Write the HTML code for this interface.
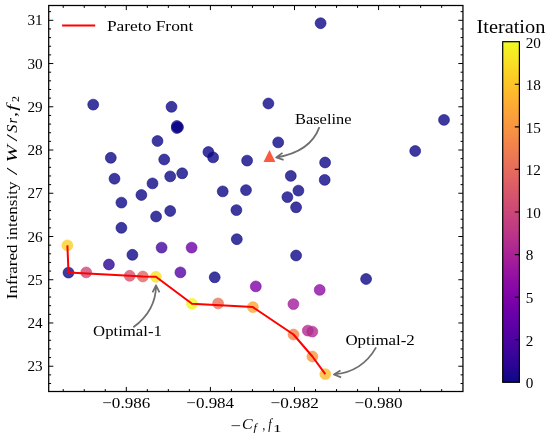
<!DOCTYPE html><html><head><meta charset="utf-8"><style>html,body{margin:0;padding:0;background:#fff;width:550px;height:439px;overflow:hidden}svg{display:block}text{font-family:'Liberation Serif', 'DejaVu Serif', serif;fill:#000}</style></head><body>
<svg width="550" height="439" viewBox="0 0 550 439">
<rect width="550" height="439" fill="#fff"/>
<g fill-opacity="0.80" stroke-opacity="0.80" stroke-width="0.7">
<circle cx="93.2" cy="104.6" r="5.45" fill="#0d0887" stroke="#0d0887"/>
<circle cx="171.5" cy="106.8" r="5.45" fill="#0d0887" stroke="#0d0887"/>
<circle cx="176.9" cy="126.0" r="5.45" fill="#0d0887" stroke="#0d0887"/>
<circle cx="178.0" cy="127.2" r="5.45" fill="#0d0887" stroke="#0d0887"/>
<circle cx="176.8" cy="128.0" r="5.45" fill="#0d0887" stroke="#0d0887"/>
<circle cx="157.5" cy="141.0" r="5.45" fill="#0d0887" stroke="#0d0887"/>
<circle cx="208.4" cy="152.0" r="5.45" fill="#0d0887" stroke="#0d0887"/>
<circle cx="213.1" cy="157.4" r="5.45" fill="#0d0887" stroke="#0d0887"/>
<circle cx="110.8" cy="157.8" r="5.45" fill="#0d0887" stroke="#0d0887"/>
<circle cx="164.2" cy="159.5" r="5.45" fill="#0d0887" stroke="#0d0887"/>
<circle cx="114.5" cy="178.7" r="5.45" fill="#0d0887" stroke="#0d0887"/>
<circle cx="170.2" cy="176.4" r="5.45" fill="#0d0887" stroke="#0d0887"/>
<circle cx="182.2" cy="173.3" r="5.45" fill="#0d0887" stroke="#0d0887"/>
<circle cx="152.5" cy="183.4" r="5.45" fill="#0d0887" stroke="#0d0887"/>
<circle cx="141.4" cy="195.0" r="5.45" fill="#0d0887" stroke="#0d0887"/>
<circle cx="121.4" cy="202.6" r="5.45" fill="#0d0887" stroke="#0d0887"/>
<circle cx="222.7" cy="191.4" r="5.45" fill="#0d0887" stroke="#0d0887"/>
<circle cx="170.2" cy="211.0" r="5.45" fill="#0d0887" stroke="#0d0887"/>
<circle cx="156.1" cy="216.5" r="5.45" fill="#0d0887" stroke="#0d0887"/>
<circle cx="236.4" cy="210.1" r="5.45" fill="#0d0887" stroke="#0d0887"/>
<circle cx="121.4" cy="227.8" r="5.45" fill="#0d0887" stroke="#0d0887"/>
<circle cx="236.8" cy="239.2" r="5.45" fill="#0d0887" stroke="#0d0887"/>
<circle cx="132.4" cy="254.8" r="5.45" fill="#0d0887" stroke="#0d0887"/>
<circle cx="68.5" cy="272.6" r="5.45" fill="#0d0887" stroke="#0d0887"/>
<circle cx="214.7" cy="277.3" r="5.45" fill="#0d0887" stroke="#0d0887"/>
<circle cx="320.6" cy="23.2" r="5.45" fill="#0d0887" stroke="#0d0887"/>
<circle cx="268.4" cy="103.5" r="5.45" fill="#0d0887" stroke="#0d0887"/>
<circle cx="278.2" cy="142.4" r="5.45" fill="#0d0887" stroke="#0d0887"/>
<circle cx="247.1" cy="160.6" r="5.45" fill="#0d0887" stroke="#0d0887"/>
<circle cx="325.1" cy="162.5" r="5.45" fill="#0d0887" stroke="#0d0887"/>
<circle cx="290.8" cy="175.9" r="5.45" fill="#0d0887" stroke="#0d0887"/>
<circle cx="324.7" cy="179.9" r="5.45" fill="#0d0887" stroke="#0d0887"/>
<circle cx="246.0" cy="190.1" r="5.45" fill="#0d0887" stroke="#0d0887"/>
<circle cx="298.4" cy="190.6" r="5.45" fill="#0d0887" stroke="#0d0887"/>
<circle cx="287.4" cy="197.1" r="5.45" fill="#0d0887" stroke="#0d0887"/>
<circle cx="296.1" cy="207.3" r="5.45" fill="#0d0887" stroke="#0d0887"/>
<circle cx="296.1" cy="255.5" r="5.45" fill="#0d0887" stroke="#0d0887"/>
<circle cx="444.0" cy="119.9" r="5.45" fill="#0d0887" stroke="#0d0887"/>
<circle cx="415.2" cy="151.0" r="5.45" fill="#0d0887" stroke="#0d0887"/>
<circle cx="366.1" cy="279.0" r="5.45" fill="#0d0887" stroke="#0d0887"/>
<circle cx="67.4" cy="245.4" r="5.45" fill="#fcce25" stroke="#fcce25"/>
<circle cx="86.2" cy="272.4" r="5.45" fill="#cc4778" stroke="#cc4778"/>
<circle cx="108.9" cy="264.5" r="5.45" fill="#2a0593" stroke="#2a0593"/>
<circle cx="129.7" cy="275.8" r="5.45" fill="#d6556d" stroke="#d6556d"/>
<circle cx="142.8" cy="276.5" r="5.45" fill="#e16462" stroke="#e16462"/>
<circle cx="155.9" cy="276.8" r="5.45" fill="#f7e425" stroke="#f7e425"/>
<circle cx="161.6" cy="247.6" r="5.45" fill="#41049d" stroke="#41049d"/>
<circle cx="191.6" cy="247.6" r="5.45" fill="#6a00a8" stroke="#6a00a8"/>
<circle cx="180.4" cy="272.4" r="5.45" fill="#5601a4" stroke="#5601a4"/>
<circle cx="192.0" cy="303.8" r="5.45" fill="#f0f921" stroke="#f0f921"/>
<circle cx="218.1" cy="303.4" r="5.45" fill="#ea7457" stroke="#ea7457"/>
<circle cx="252.9" cy="307.1" r="5.45" fill="#fca636" stroke="#fca636"/>
<circle cx="255.8" cy="286.4" r="5.45" fill="#7e03a8" stroke="#7e03a8"/>
<circle cx="319.7" cy="289.9" r="5.45" fill="#8f0da4" stroke="#8f0da4"/>
<circle cx="293.4" cy="304.1" r="5.45" fill="#a11b9b" stroke="#a11b9b"/>
<circle cx="293.5" cy="334.5" r="5.45" fill="#f2844b" stroke="#f2844b"/>
<circle cx="307.8" cy="330.6" r="5.45" fill="#b12a90" stroke="#b12a90"/>
<circle cx="312.3" cy="331.6" r="5.45" fill="#b12a90" stroke="#b12a90"/>
<circle cx="312.4" cy="356.5" r="5.45" fill="#f89540" stroke="#f89540"/>
<circle cx="325.3" cy="374.1" r="5.45" fill="#feba2c" stroke="#feba2c"/>
</g>
<polygon points="269.5,150.0 263.5,162.0 275.4,162.0" fill="#fa5a3e"/>
<polyline points="67.4,245.4 68.5,272.6 129.7,275.8 142.8,276.5 155.9,276.8 192.0,303.8 252.9,307.1 293.5,334.5 312.4,356.5 325.3,374.1" fill="none" stroke="#ff0000" stroke-width="2.0" stroke-linejoin="round"/>
<path d="M48.70 366.22H53.30M462.95 366.22H458.35M48.70 322.98H53.30M462.95 322.98H458.35M48.70 279.74H53.30M462.95 279.74H458.35M48.70 236.50H53.30M462.95 236.50H458.35M48.70 193.26H53.30M462.95 193.26H458.35M48.70 150.02H53.30M462.95 150.02H458.35M48.70 106.78H53.30M462.95 106.78H458.35M48.70 63.54H53.30M462.95 63.54H458.35M48.70 20.30H53.30M462.95 20.30H458.35M48.70 383.52H51.10M462.95 383.52H460.55M48.70 374.87H51.10M462.95 374.87H460.55M48.70 357.57H51.10M462.95 357.57H460.55M48.70 348.92H51.10M462.95 348.92H460.55M48.70 340.28H51.10M462.95 340.28H460.55M48.70 331.63H51.10M462.95 331.63H460.55M48.70 314.33H51.10M462.95 314.33H460.55M48.70 305.68H51.10M462.95 305.68H460.55M48.70 297.04H51.10M462.95 297.04H460.55M48.70 288.39H51.10M462.95 288.39H460.55M48.70 271.09H51.10M462.95 271.09H460.55M48.70 262.44H51.10M462.95 262.44H460.55M48.70 253.80H51.10M462.95 253.80H460.55M48.70 245.15H51.10M462.95 245.15H460.55M48.70 227.85H51.10M462.95 227.85H460.55M48.70 219.20H51.10M462.95 219.20H460.55M48.70 210.56H51.10M462.95 210.56H460.55M48.70 201.91H51.10M462.95 201.91H460.55M48.70 184.61H51.10M462.95 184.61H460.55M48.70 175.96H51.10M462.95 175.96H460.55M48.70 167.32H51.10M462.95 167.32H460.55M48.70 158.67H51.10M462.95 158.67H460.55M48.70 141.37H51.10M462.95 141.37H460.55M48.70 132.72H51.10M462.95 132.72H460.55M48.70 124.08H51.10M462.95 124.08H460.55M48.70 115.43H51.10M462.95 115.43H460.55M48.70 98.13H51.10M462.95 98.13H460.55M48.70 89.48H51.10M462.95 89.48H460.55M48.70 80.84H51.10M462.95 80.84H460.55M48.70 72.19H51.10M462.95 72.19H460.55M48.70 54.89H51.10M462.95 54.89H460.55M48.70 46.24H51.10M462.95 46.24H460.55M48.70 37.60H51.10M462.95 37.60H460.55M48.70 28.95H51.10M462.95 28.95H460.55M48.70 11.65H51.10M462.95 11.65H460.55M126.30 391.50V386.90M126.30 5.50V10.10M210.40 391.50V386.90M210.40 5.50V10.10M294.50 391.50V386.90M294.50 5.50V10.10M378.60 391.50V386.90M378.60 5.50V10.10M63.22 391.50V389.10M63.22 5.50V7.90M84.25 391.50V389.10M84.25 5.50V7.90M105.27 391.50V389.10M105.27 5.50V7.90M147.32 391.50V389.10M147.32 5.50V7.90M168.35 391.50V389.10M168.35 5.50V7.90M189.37 391.50V389.10M189.37 5.50V7.90M231.42 391.50V389.10M231.42 5.50V7.90M252.45 391.50V389.10M252.45 5.50V7.90M273.47 391.50V389.10M273.47 5.50V7.90M315.52 391.50V389.10M315.52 5.50V7.90M336.55 391.50V389.10M336.55 5.50V7.90M357.57 391.50V389.10M357.57 5.50V7.90M399.62 391.50V389.10M399.62 5.50V7.90M420.65 391.50V389.10M420.65 5.50V7.90M441.67 391.50V389.10M441.67 5.50V7.90" stroke="#000" stroke-width="1.0" fill="none"/>
<rect x="48.70" y="5.50" width="414.25" height="386.00" fill="none" stroke="#000" stroke-width="1.25"/>
<text x="42.6" y="371.3" font-size="15.2" text-anchor="end">23</text>
<text x="42.6" y="328.1" font-size="15.2" text-anchor="end">24</text>
<text x="42.6" y="284.8" font-size="15.2" text-anchor="end">25</text>
<text x="42.6" y="241.6" font-size="15.2" text-anchor="end">26</text>
<text x="42.6" y="198.4" font-size="15.2" text-anchor="end">27</text>
<text x="42.6" y="155.1" font-size="15.2" text-anchor="end">28</text>
<text x="42.6" y="111.9" font-size="15.2" text-anchor="end">29</text>
<text x="42.6" y="68.6" font-size="15.2" text-anchor="end">30</text>
<text x="42.6" y="25.4" font-size="15.2" text-anchor="end">31</text>
<text x="102.25" y="407.90" font-size="15.20" textLength="47.96" lengthAdjust="spacingAndGlyphs">−0.986</text>
<text x="186.36" y="407.90" font-size="15.20" textLength="47.71" lengthAdjust="spacingAndGlyphs">−0.984</text>
<text x="270.44" y="407.90" font-size="15.20" textLength="48.41" lengthAdjust="spacingAndGlyphs">−0.982</text>
<text x="354.55" y="407.90" font-size="15.20" textLength="48.10" lengthAdjust="spacingAndGlyphs">−0.980</text>
<text x="230.48" y="430.60" font-size="15.20" textLength="10.42" lengthAdjust="spacingAndGlyphs">−</text>
<text x="242.01" y="429.30" font-size="15.20" font-style="italic" textLength="10.64" lengthAdjust="spacingAndGlyphs">C</text>
<text x="253.46" y="430.60" font-size="10.60" font-style="italic" textLength="3.35" lengthAdjust="spacingAndGlyphs">f</text>
<text x="262.39" y="430.30" font-size="15.20" textLength="2.69" lengthAdjust="spacingAndGlyphs">,</text>
<text x="268.26" y="429.30" font-size="15.20" font-style="italic" textLength="3.35" lengthAdjust="spacingAndGlyphs">f</text>
<text x="273.10" y="431.60" font-size="10.60" textLength="8.52" lengthAdjust="spacingAndGlyphs">1</text>
<text transform="translate(16.90,298.60) rotate(-90)" x="-0.62" y="0" font-size="15.20" textLength="117.68" lengthAdjust="spacingAndGlyphs">Infrared intensity</text>
<text transform="translate(16.90,175.20) rotate(-90)" x="0.00" y="0" font-size="15.20" textLength="7.80" lengthAdjust="spacingAndGlyphs">/</text>
<text transform="translate(16.90,161.20) rotate(-90)" x="-1.39" y="0" font-size="15.20" font-style="italic" textLength="17.59" lengthAdjust="spacingAndGlyphs">W</text>
<text transform="translate(16.90,141.60) rotate(-90)" x="0.00" y="0" font-size="15.20" textLength="7.60" lengthAdjust="spacingAndGlyphs">/</text>
<text transform="translate(16.90,132.60) rotate(-90)" x="-0.19" y="0" font-size="15.20" font-style="italic" textLength="8.05" lengthAdjust="spacingAndGlyphs">S</text>
<text transform="translate(16.90,122.60) rotate(-90)" x="-0.55" y="0" font-size="15.20" font-style="italic" textLength="5.31" lengthAdjust="spacingAndGlyphs">r</text>
<text transform="translate(16.90,116.20) rotate(-90)" x="-0.77" y="0" font-size="15.20" textLength="5.04" lengthAdjust="spacingAndGlyphs">,</text>
<text transform="translate(16.90,110.60) rotate(-90)" x="-0.25" y="0" font-size="15.20" font-style="italic" textLength="6.11" lengthAdjust="spacingAndGlyphs">f</text>
<text transform="translate(19.20,101.60) rotate(-90)" x="-0.53" y="0" font-size="10.60" textLength="5.99" lengthAdjust="spacingAndGlyphs">2</text>
<line x1="62.1" y1="25.5" x2="95.2" y2="25.5" stroke="#ff0000" stroke-width="2.0"/>
<text x="106.90" y="30.90" font-size="15.20" textLength="86.50" lengthAdjust="spacingAndGlyphs">Pareto Front</text>
<text x="295.03" y="124.40" font-size="15.20" textLength="56.44" lengthAdjust="spacingAndGlyphs">Baseline</text>
<text x="93.11" y="335.80" font-size="15.20" textLength="68.79" lengthAdjust="spacingAndGlyphs">Optimal-1</text>
<text x="345.41" y="344.90" font-size="15.20" textLength="69.42" lengthAdjust="spacingAndGlyphs">Optimal-2</text>
<path d="M319.4 127.1Q310.3 152.0 276.2 157.4 M282.5 152.9L276.2 157.4L283.6 159.8" fill="none" stroke="#6e6e6e" stroke-width="1.75" stroke-linejoin="round" stroke-linecap="butt"/>
<path d="M133.3 327.3Q156.0 310.5 156.0 285.4 M159.5 292.3L156.0 285.4L152.5 292.3" fill="none" stroke="#6e6e6e" stroke-width="1.75" stroke-linejoin="round" stroke-linecap="butt"/>
<path d="M376.1 347.4Q362.0 372.2 333.9 374.5 M340.5 370.4L333.9 374.5L341.1 377.4" fill="none" stroke="#6e6e6e" stroke-width="1.75" stroke-linejoin="round" stroke-linecap="butt"/>
<defs><linearGradient id="cb" x1="0" y1="1" x2="0" y2="0">
<stop offset="0.000" stop-color="#0d0887"/>
<stop offset="0.050" stop-color="#2a0593"/>
<stop offset="0.100" stop-color="#41049d"/>
<stop offset="0.150" stop-color="#5601a4"/>
<stop offset="0.200" stop-color="#6a00a8"/>
<stop offset="0.250" stop-color="#7e03a8"/>
<stop offset="0.300" stop-color="#8f0da4"/>
<stop offset="0.350" stop-color="#a11b9b"/>
<stop offset="0.400" stop-color="#b12a90"/>
<stop offset="0.450" stop-color="#bf3984"/>
<stop offset="0.500" stop-color="#cc4778"/>
<stop offset="0.550" stop-color="#d6556d"/>
<stop offset="0.600" stop-color="#e16462"/>
<stop offset="0.650" stop-color="#ea7457"/>
<stop offset="0.700" stop-color="#f2844b"/>
<stop offset="0.750" stop-color="#f89540"/>
<stop offset="0.800" stop-color="#fca636"/>
<stop offset="0.850" stop-color="#feba2c"/>
<stop offset="0.900" stop-color="#fcce25"/>
<stop offset="0.950" stop-color="#f7e425"/>
<stop offset="1.000" stop-color="#f0f921"/>
</linearGradient></defs>
<rect x="502.7" y="41.7" width="16.7" height="340.6" fill="url(#cb)" stroke="#000" stroke-width="1.2"/>
<text x="525.7" y="388.1" font-size="15.2">0</text>
<text x="525.7" y="345.5" font-size="15.2">2</text>
<text x="525.7" y="302.9" font-size="15.2">5</text>
<text x="525.7" y="260.4" font-size="15.2">8</text>
<text x="525.7" y="217.8" font-size="15.2">10</text>
<text x="525.7" y="175.2" font-size="15.2">12</text>
<text x="525.7" y="132.7" font-size="15.2">15</text>
<text x="525.7" y="90.1" font-size="15.2">18</text>
<text x="525.7" y="47.5" font-size="15.2">20</text>
<path d="M519.4 339.7H514.8M519.4 297.1H514.8M519.4 254.6H514.8M519.4 212.0H514.8M519.4 169.4H514.8M519.4 126.9H514.8M519.4 84.3H514.8" stroke="#000" stroke-width="1.1"/>
<text x="476.46" y="32.50" font-size="18.30" textLength="68.94" lengthAdjust="spacingAndGlyphs">Iteration</text>
</svg></body></html>
